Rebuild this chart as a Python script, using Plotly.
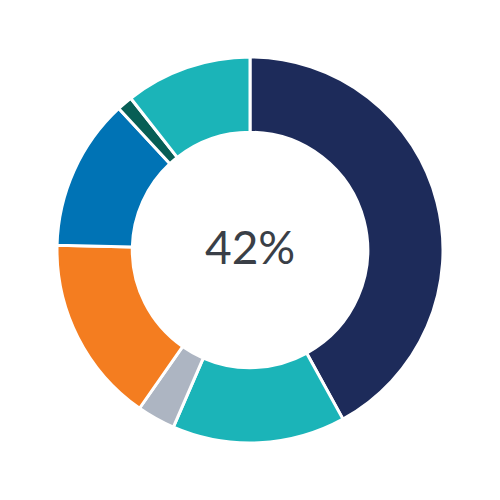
import plotly.graph_objects as go

labels = ['A', 'B', 'C', 'D', 'E', 'F', 'G']
values = [42, 14.5, 3.2, 15.7, 12.7, 1.3, 10.6]
colors = ['#1d2b5a', '#1bb4b8', '#adb5c2', '#f47d20', '#0073b5', '#075e55', '#1bb4b8']
center_text = '42%'

fig = go.Figure()

fig.add_trace(go.Pie(
    labels=labels,
    values=values,
    hole=0.61,
    sort=False,
    direction='clockwise',
    rotation=0,
    textinfo='none',
    marker=dict(colors=colors, line=dict(color='white', width=3)),
    showlegend=False
))

# page body adds 8px, so shift the pie up/left
fig.update_layout(
    width=500,
    height=500,
    margin=dict(l=49, r=65, t=49, b=65),
    paper_bgcolor='white',
    annotations=[dict(text=center_text, x=0.5, y=0.5, xref='paper', yref='paper',
                      yshift=4, showarrow=False,
                      font=dict(family='Lato', size=46, color='#3a3f47'))]
)

fig.write_html("out.html")
